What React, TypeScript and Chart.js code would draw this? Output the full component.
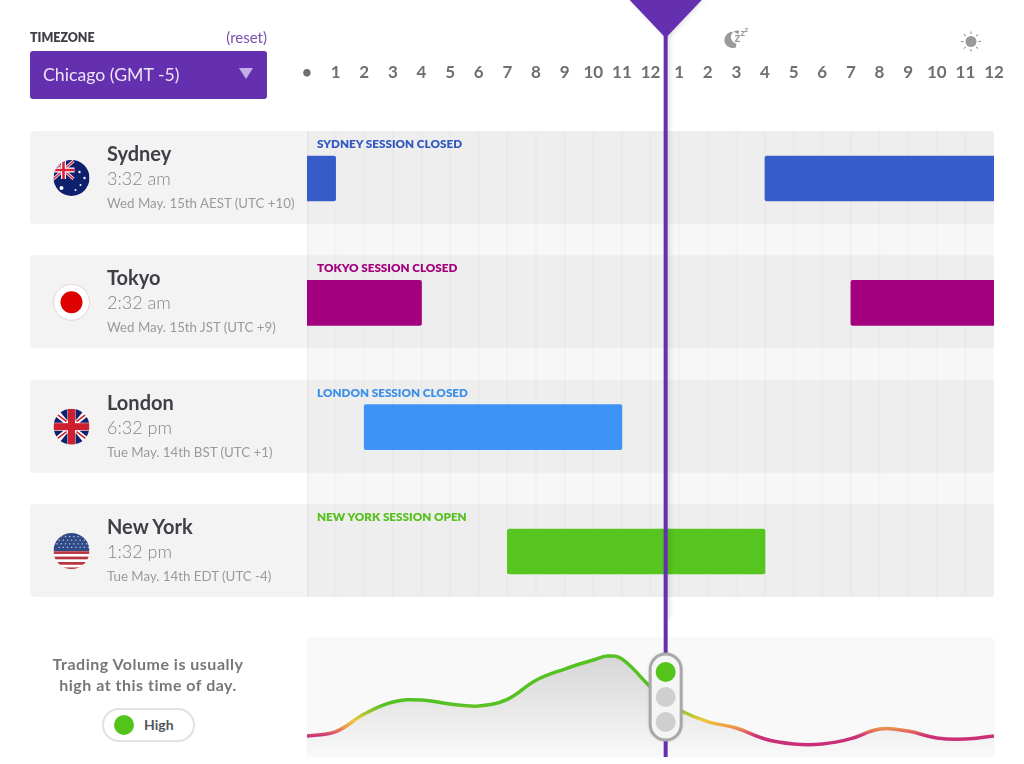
import React, { useEffect, useRef } from "react";
import { Chart, registerables } from "chart.js";

Chart.register(...registerables);

// ---- data ----
const cities = ["Sydney", "Tokyo", "London", "New York"];
const localTimes = ["3:32 am", "2:32 am", "6:32 pm", "1:32 pm"];
const localDates = [
  "Wed May. 15th AEST (UTC +10)",
  "Wed May. 15th JST (UTC +9)",
  "Tue May. 14th BST (UTC +1)",
  "Tue May. 14th EDT (UTC -4)",
];
const sessionLabels = [
  "SYDNEY SESSION CLOSED",
  "TOKYO SESSION CLOSED",
  "LONDON SESSION CLOSED",
  "NEW YORK SESSION OPEN",
];
const sessionColors = ["#355cc8", "#a3007f", "#3d94f6", "#56c51f"];
const labelColors = ["#3358c0", "#a3007f", "#3d8fe8", "#56c01f"];
const firstSpans: ([number, number] | null)[] = [[0, 1], [0, 4], [2, 11], [7, 16]];
const secondSpans: ([number, number] | null)[] = [[16, 24], [19, 24], null, null];
const hourLabels = ["•", "1", "2", "3", "4", "5", "6", "7", "8", "9", "10", "11", "12", "1", "2", "3", "4", "5", "6", "7", "8", "9", "10", "11", "12"];
const currentHour = 12.53;
const volumeHours = [0, 1, 2, 3, 4, 5, 6, 7, 8, 9, 10, 10.5, 11, 12, 12.5, 13, 14, 15, 16, 17, 18, 19, 20, 21, 22, 23, 24];
const volumeValues = [17.6, 21.3, 36.1, 46.2, 47.9, 44.5, 42.9, 48.5, 64.5, 73.9, 81.5, 84.9, 82.4, 58.8, 47.9, 39.5, 29.7, 24.4, 15.1, 10.9, 10.9, 15.4, 23.5, 21.8, 16, 15.1, 17.6];
const signalLamps = ["#52c41a", "#cfcfcf", "#cfcfcf"];

const PURPLE = "#6530b0";
const FONT = "Lato, sans-serif";

function flagClip(ctx: CanvasRenderingContext2D, cx: number, cy: number, r: number, draw: () => void) {
  ctx.save();
  ctx.beginPath();
  ctx.arc(cx, cy, r, 0, Math.PI * 2);
  ctx.clip();
  draw();
  ctx.restore();
}
function poly(ctx: CanvasRenderingContext2D, color: string, pts: number[][]) {
  ctx.fillStyle = color;
  ctx.beginPath();
  pts.forEach((p, i) => (i ? ctx.lineTo(p[0], p[1]) : ctx.moveTo(p[0], p[1])));
  ctx.closePath();
  ctx.fill();
}
function line(ctx: CanvasRenderingContext2D, color: string, w: number, a: number[], b: number[]) {
  ctx.strokeStyle = color;
  ctx.lineWidth = w;
  ctx.beginPath();
  ctx.moveTo(a[0], a[1]);
  ctx.lineTo(b[0], b[1]);
  ctx.stroke();
}
function drawFlag(ctx: CanvasRenderingContext2D, i: number, cx: number, cy: number) {
  const r = 18;
  if (i === 0) {
    flagClip(ctx, cx, cy, r, () => {
      ctx.fillStyle = "#0d1f6d";
      ctx.fillRect(cx - r, cy - r, 2 * r, 2 * r);
      const ux = cx - r, uy = cy - r + 1;
      line(ctx, "#fff", 3, [ux, uy], [cx + 2, cy + 1]);
      line(ctx, "#fff", 3, [cx + 2, uy], [ux, cy + 1]);
      line(ctx, "#d8203a", 1.4, [ux, uy], [cx + 2, cy + 1]);
      line(ctx, "#d8203a", 1.4, [cx + 2, uy], [ux, cy + 1]);
      line(ctx, "#fff", 5, [ux, cy - 8], [cx + 3, cy - 8]);
      line(ctx, "#fff", 5, [cx - 8, uy], [cx - 8, cy + 1]);
      line(ctx, "#d8203a", 2.6, [ux, cy - 8], [cx + 3, cy - 8]);
      line(ctx, "#d8203a", 2.6, [cx - 8, uy], [cx - 8, cy + 1]);
      ctx.fillStyle = "#fff";
      [[-10, 10, 2], [4, 12, 1], [13, 0, 1.2], [8, -6, 1.2], [9, 7, 1]].forEach(([dx, dy, s]) => {
        ctx.beginPath();
        ctx.arc(cx + dx, cy + dy, s, 0, Math.PI * 2);
        ctx.fill();
      });
    });
  } else if (i === 1) {
    ctx.fillStyle = "#fff";
    ctx.strokeStyle = "#e8d4d4";
    ctx.lineWidth = 1;
    ctx.beginPath();
    ctx.arc(cx, cy, r, 0, Math.PI * 2);
    ctx.fill();
    ctx.stroke();
    ctx.fillStyle = "#dc0000";
    ctx.beginPath();
    ctx.arc(cx, cy, 11, 0, Math.PI * 2);
    ctx.fill();
  } else if (i === 2) {
    flagClip(ctx, cx, cy, r, () => {
      ctx.fillStyle = "#fff";
      ctx.fillRect(cx - r, cy - r, 2 * r, 2 * r);
      const n = "#10206a";
      poly(ctx, n, [[cx - 14, cy - 18], [cx - 4, cy - 18], [cx - 4, cy - 6]]);
      poly(ctx, n, [[cx + 14, cy - 18], [cx + 4, cy - 18], [cx + 4, cy - 6]]);
      poly(ctx, n, [[cx - 14, cy + 18], [cx - 4, cy + 18], [cx - 4, cy + 6]]);
      poly(ctx, n, [[cx + 14, cy + 18], [cx + 4, cy + 18], [cx + 4, cy + 6]]);
      poly(ctx, n, [[cx - 18, cy - 12], [cx - 18, cy - 4], [cx - 8, cy - 4]]);
      poly(ctx, n, [[cx + 18, cy - 12], [cx + 18, cy - 4], [cx + 8, cy - 4]]);
      poly(ctx, n, [[cx - 18, cy + 12], [cx - 18, cy + 4], [cx - 8, cy + 4]]);
      poly(ctx, n, [[cx + 18, cy + 12], [cx + 18, cy + 4], [cx + 8, cy + 4]]);
      const red = "#cf1f2e";
      line(ctx, red, 1.6, [cx - 18, cy - 15], [cx - 5, cy - 5]);
      line(ctx, red, 1.6, [cx + 18, cy + 15], [cx + 5, cy + 5]);
      line(ctx, red, 1.6, [cx + 18, cy - 15], [cx + 5, cy - 5]);
      line(ctx, red, 1.6, [cx - 18, cy + 15], [cx - 5, cy + 5]);
      ctx.fillStyle = red;
      ctx.fillRect(cx - 3.5, cy - r, 7, 2 * r);
      ctx.fillRect(cx - r, cy - 3.5, 2 * r, 7);
    });
  } else {
    flagClip(ctx, cx, cy, r, () => {
      ctx.fillStyle = "#fff";
      ctx.fillRect(cx - r, cy - r, 2 * r, 2 * r);
      ctx.fillStyle = "#b8343e";
      for (let s = 0; s < 7; s++) ctx.fillRect(cx - r, cy - r + 2 + s * 5.4, 2 * r, 2.7);
      ctx.fillStyle = "#2f4a86";
      ctx.fillRect(cx - r, cy - r, 2 * r, 18);
      ctx.fillStyle = "#c9d3ea";
      for (let a = 0; a < 4; a++)
        for (let b = 0; b < 8; b++) ctx.fillRect(cx - r + 3 + b * 4.2 + (a % 2) * 2, cy - r + 3 + a * 3.6, 1.2, 1.2);
    });
  }
}

function roundRect(ctx: CanvasRenderingContext2D, x: number, y: number, w: number, h: number, r: number) {
  ctx.beginPath();
  ctx.roundRect(x, y, w, h, r);
}

function drawIcons(ctx: CanvasRenderingContext2D, xs: any) {
  // moon above hour 15, sun above hour 23
  const mx = xs.getPixelForValue(15) - 4;
  const sx = xs.getPixelForValue(23) + 5.6;
  ctx.save();
  ctx.fillStyle = "#9a9a9a";
  ctx.beginPath();
  ctx.arc(mx, 40, 8, 0.35 * Math.PI, 1.75 * Math.PI);
  ctx.arc(mx + 5, 37, 6.5, 1.6 * Math.PI, 0.55 * Math.PI, true);
  ctx.closePath();
  ctx.fill();
  ctx.font = `bold 13px ${FONT}`;
  ctx.fillText("z", mx + 2, 42);
  ctx.font = `bold 10px ${FONT}`;
  ctx.fillText("z", mx + 8, 36);
  ctx.font = `bold 8px ${FONT}`;
  ctx.fillText("z", mx + 12, 32);
  ctx.beginPath();
  ctx.arc(sx, 41.5, 5.5, 0, Math.PI * 2);
  ctx.fill();
  ctx.strokeStyle = "#9a9a9a";
  ctx.lineWidth = 1.2;
  for (let a = 0; a < 8; a++) {
    const t = (a * Math.PI) / 4;
    ctx.beginPath();
    ctx.moveTo(sx + Math.cos(t) * 7.5, 41.5 + Math.sin(t) * 7.5);
    ctx.lineTo(sx + Math.cos(t) * 10, 41.5 + Math.sin(t) * 10);
    ctx.stroke();
  }
  ctx.restore();
}

const sessionPlugin = {
  id: "sessionDecor",
  beforeDatasetsDraw(chart: any) {
    const { ctx, scales, chartArea } = chart;
    const xs = scales.x, ys = scales.y;
    const top = ys.getPixelForValue(0) - 47.5;
    const bottom = ys.getPixelForValue(3) + 45.5;
    ctx.save();
    // gantt background with lighter gaps
    ctx.fillStyle = "#f7f7f7";
    roundRect(ctx, chartArea.left, top, chartArea.width, bottom - top, 4);
    ctx.fill();
    cities.forEach((_, i) => {
      const cy = ys.getPixelForValue(i);
      ctx.fillStyle = "#f3f3f4";
      roundRect(ctx, 30, cy - 47.5, 290, 93, 4);
      ctx.fill();
      ctx.fillStyle = "#eeeeee";
      roundRect(ctx, chartArea.left, cy - 47.5, chartArea.width, 93, 3);
      ctx.fill();
      drawFlag(ctx, i, 71.5, cy - 0.5);
    });
    // left edge strip and hour lines
    ctx.fillStyle = "rgba(0,0,0,0.03)";
    ctx.fillRect(chartArea.left, top, 2, bottom - top);
    ctx.fillStyle = "rgba(0,0,0,0.02)";
    for (let h = 1; h < 24; h++) {
      const x = xs.getPixelForValue(h);
      ctx.fillRect(x - 1, top, 2, bottom - top);
    }
    drawIcons(ctx, xs);
    ctx.restore();
  },
  afterDraw(chart: any) {
    const { ctx, scales, height } = chart;
    const x = scales.x.getPixelForValue(currentHour);
    ctx.save();
    ctx.shadowColor = "rgba(0,0,0,0.14)";
    ctx.shadowBlur = 5;
    ctx.shadowOffsetX = 2;
    ctx.fillStyle = PURPLE;
    ctx.fillRect(x - 2, 30, 4, height - 30);
    ctx.beginPath();
    ctx.moveTo(x - 37, -1);
    ctx.lineTo(x + 37, -1);
    ctx.lineTo(x, 38);
    ctx.closePath();
    ctx.fill();
    ctx.restore();
  },
};

const volumePlugin = {
  id: "volumeDecor",
  beforeDatasetsDraw(chart: any) {
    const { ctx, chartArea } = chart;
    ctx.save();
    ctx.shadowColor = "rgba(0,0,0,0.08)";
    ctx.shadowBlur = 2;
    ctx.fillStyle = "#f9f9fa";
    roundRect(ctx, chartArea.left, chartArea.top, chartArea.width, chartArea.height, 4);
    ctx.fill();
    ctx.restore();
  },
  afterDraw(chart: any) {
    const { ctx, scales, chartArea } = chart;
    const x = scales.x.getPixelForValue(currentHour);
    ctx.save();
    ctx.fillStyle = PURPLE;
    ctx.fillRect(x - 2, 0, 4, chartArea.bottom);
    ctx.shadowColor = "rgba(0,0,0,0.2)";
    ctx.shadowBlur = 4;
    ctx.fillStyle = "#f5f5f5";
    roundRect(ctx, x - 15.5, 34, 31, 86, 15.5);
    ctx.fill();
    ctx.shadowColor = "transparent";
    ctx.strokeStyle = "#a8a8a8";
    ctx.lineWidth = 3;
    ctx.stroke();
    signalLamps.forEach((c, i) => {
      ctx.fillStyle = c;
      ctx.beginPath();
      ctx.arc(x, 52 + i * 25, 10, 0, Math.PI * 2);
      ctx.fill();
    });
    ctx.restore();
  },
};

const textBase: React.CSSProperties = { position: "absolute", fontFamily: FONT, whiteSpace: "nowrap" };

export default function App() {
  const sessionRef = useRef<HTMLCanvasElement>(null);
  const volumeRef = useRef<HTMLCanvasElement>(null);

  useEffect(() => {
    const radius = (ctx: any) => {
      const raw = ctx.raw;
      if (!raw) return 0;
      const left = raw[0] === 0 ? 0 : 2;
      const right = raw[1] === 24 ? 0 : 2;
      return { topLeft: left, bottomLeft: left, topRight: right, bottomRight: right };
    };
    const sessions = new Chart(sessionRef.current!, {
      type: "bar",
      data: {
        labels: cities,
        datasets: [
          { label: "first", data: firstSpans as any, backgroundColor: sessionColors, grouped: false, barThickness: 45, borderSkipped: false, borderRadius: radius as any },
          { label: "second", data: secondSpans as any, backgroundColor: sessionColors, grouped: false, barThickness: 45, borderSkipped: false, borderRadius: radius as any },
        ],
      },
      options: {
        indexAxis: "y",
        responsive: false,
        animation: false,
        layout: { padding: { left: 307, right: 30, top: 0, bottom: 6.3 } },
        plugins: { legend: { display: false }, tooltip: { enabled: false }, title: { display: false } },
        scales: {
          x: {
            type: "linear",
            position: "top",
            min: 0,
            max: 24,
            grid: { display: false, drawTicks: false },
            border: { display: false },
            afterFit: (s: any) => { s.height = 116.3; s.paddingLeft = 0; s.paddingRight = 0; },
            ticks: {
              stepSize: 1,
              autoSkip: false,
              maxRotation: 0,
              padding: 34,
              color: "#6f6f72",
              font: { family: FONT, size: 17, weight: "bold" },
              callback: (v: any) => hourLabels[v as number],
            },
          },
          y: { type: "category", display: false },
        },
      } as any,
      plugins: [sessionPlugin],
    });

    const volume = new Chart(volumeRef.current!, {
      type: "line",
      data: {
        datasets: [
          {
            label: "Trading volume",
            data: volumeHours.map((h, i) => ({ x: h, y: volumeValues[i] })),
            tension: 0.4,
            pointRadius: 0,
            borderWidth: 3.5,
            fill: "origin",
            borderColor: (c: any) => {
              const { chart } = c;
              if (!chart.chartArea) return "#55c122";
              const ys = chart.scales.y;
              const a = ys.getPixelForValue(44);
              const b = ys.getPixelForValue(17.5);
              const g = chart.ctx.createLinearGradient(0, a, 0, b);
              g.addColorStop(0, "#55c122");
              g.addColorStop(0.2, "#8fc62e");
              g.addColorStop(0.5, "#efc93a");
              g.addColorStop(0.75, "#ee8f4e");
              g.addColorStop(1, "#cb2f78");
              return g;
            },
            backgroundColor: (c: any) => {
              const { chart } = c;
              if (!chart.chartArea) return "rgba(0,0,0,0.05)";
              const ys = chart.scales.y;
              const g = chart.ctx.createLinearGradient(0, ys.getPixelForValue(85), 0, ys.getPixelForValue(0));
              g.addColorStop(0, "rgba(0,0,0,0.14)");
              g.addColorStop(1, "rgba(0,0,0,0)");
              return g;
            },
          },
        ],
      },
      options: {
        responsive: false,
        animation: false,
        layout: { padding: { left: 307, right: 30, top: 18, bottom: 7 } },
        plugins: { legend: { display: false }, tooltip: { enabled: false } },
        scales: {
          x: { type: "linear", min: 0, max: 24, display: false },
          y: { min: 0, max: 100, display: false },
        },
      } as any,
      plugins: [volumePlugin],
    });

    return () => {
      sessions.destroy();
      volume.destroy();
    };
  }, []);

  return (
    <div style={{ position: "absolute", left: 0, top: 0, width: 1024, height: 764, overflow: "hidden", background: "#fff" }}>
      <canvas ref={sessionRef} width={1024} height={620} style={{ position: "absolute", left: 0, top: 0 }} />
      <canvas ref={volumeRef} width={1024} height={144} style={{ position: "absolute", left: 0, top: 620 }} />

      <div style={{ ...textBase, left: 30, top: 31, fontSize: 12.4, lineHeight: "14px", fontWeight: 800, color: "#3f4047" }}>TIMEZONE</div>
      <div style={{ ...textBase, right: 757, top: 30, fontSize: 15, lineHeight: "14px", color: "#7a4fb0" }}>(reset)</div>
      <div style={{ position: "absolute", left: 30, top: 51, width: 237, height: 48, background: PURPLE, borderRadius: 3 }} />
      <div style={{ ...textBase, left: 43, top: 65, fontSize: 17.7, lineHeight: "20px", color: "#ece4f8" }}>Chicago (GMT -5)</div>
      <div style={{ position: "absolute", left: 239, top: 68, width: 0, height: 0, borderLeft: "7.5px solid transparent", borderRight: "7.5px solid transparent", borderTop: "11px solid #c4aee6" }} />

      {cities.map((city, i) => {
        const top = 131 + i * 124.33;
        return (
          <React.Fragment key={city}>
            <div style={{ ...textBase, left: 107, top: top + 11, fontSize: 20, lineHeight: "22px", fontWeight: 700, color: "#3f4047" }}>{city}</div>
            <div style={{ ...textBase, left: 107, top: top + 37, fontSize: 18, lineHeight: "20px", fontWeight: 300, color: "#858587" }}>{localTimes[i]}</div>
            <div style={{ ...textBase, left: 107, top: top + 64, fontSize: 13.3, lineHeight: "16px", color: "#9a9a9c" }}>{localDates[i]}</div>
            <div style={{ ...textBase, left: 317, top: top + 5, fontSize: 11.7, lineHeight: "14px", fontWeight: 800, color: labelColors[i] }}>{sessionLabels[i]}</div>
          </React.Fragment>
        );
      })}

      <div style={{ ...textBase, left: 20, width: 256, textAlign: "center", top: 653, fontSize: 16, letterSpacing: 0.5, lineHeight: "21px", fontWeight: 700, color: "#77777a" }}>
        Trading Volume is usually<br />high at this time of day.
      </div>
      <div style={{ position: "absolute", left: 102, top: 708, width: 89, height: 30, border: "2px solid #e2e2e2", borderRadius: 17, background: "#fff" }} />
      <div style={{ position: "absolute", left: 114, top: 715, width: 20, height: 20, borderRadius: 10, background: "#52c41a" }} />
      <div style={{ ...textBase, left: 144, top: 717, fontSize: 14, lineHeight: "16px", fontWeight: 700, color: "#55565c" }}>High</div>
    </div>
  );
}
